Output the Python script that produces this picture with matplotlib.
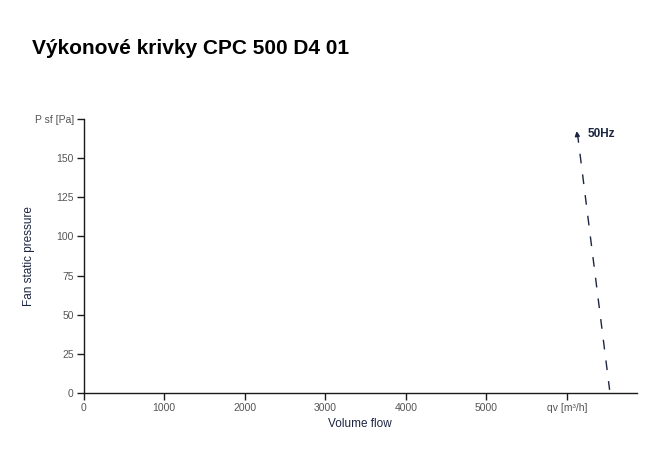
import matplotlib
matplotlib.use('Agg')
import matplotlib.pyplot as plt

plt.rcParams['font.family'] = ['Liberation Sans', 'DejaVu Sans']

# 50Hz curve
flow_50 = [6130, 6330, 6530]
pressure_50 = [166, 84, 2]
curve_label = '50Hz'

x_ticks = [0, 1000, 2000, 3000, 4000, 5000, 6000]
x_tick_labels = ['0', '1000', '2000', '3000', '4000', '5000', 'qv [m³/h]']
y_ticks = [0, 25, 50, 75, 100, 125, 150, 175]
y_tick_labels = ['0', '25', '50', '75', '100', '125', '150', 'P sf [Pa]']

navy = '#1c2541'
axis_col = '#1a1a1a'
tick_txt = '#555555'

fig = plt.figure(figsize=(6.5, 4.5), dpi=100)
ax = fig.add_axes([0.1285, 0.1267, 0.8515, 0.6089])

ax.plot(flow_50, pressure_50, color=navy, lw=1.0, dashes=(7, 8))
ax.annotate('', xy=(flow_50[0] - 15, pressure_50[0] + 3), xytext=(flow_50[0] + 5, pressure_50[0] - 4),
            arrowprops=dict(arrowstyle='-|>', color=navy, lw=1.0, mutation_scale=7))
ax.text(flow_50[0] + 130, pressure_50[0] - 0.5, curve_label, color=navy, fontsize=8.5,
        fontweight='bold', va='center', ha='left')

ax.set_xlim(0, 6870)
ax.set_ylim(0, 175)
ax.set_xticks(x_ticks)
ax.set_xticklabels(x_tick_labels)
ax.set_yticks(y_ticks)
ax.set_yticklabels(y_tick_labels)
ax.tick_params(axis='both', direction='out', length=5, width=1, color=axis_col,
               labelsize=7.5, labelcolor=tick_txt, pad=2)

for s in ['top', 'right']:
    ax.spines[s].set_visible(False)
for s in ['left', 'bottom']:
    ax.spines[s].set_color(axis_col)
    ax.spines[s].set_linewidth(1)

ax.set_xlabel('Volume flow', fontsize=8.5, color=navy, labelpad=4)
ax.set_ylabel('Fan static pressure', fontsize=8.5, color=navy)
ax.yaxis.set_label_coords(-0.087, 0.5)

fig.text(0.049, 0.893, 'Výkonové krivky CPC 500 D4 01', fontsize=15, fontweight='bold',
         color='black', ha='left', va='center')

fig.savefig('out.png', dpi=100)
